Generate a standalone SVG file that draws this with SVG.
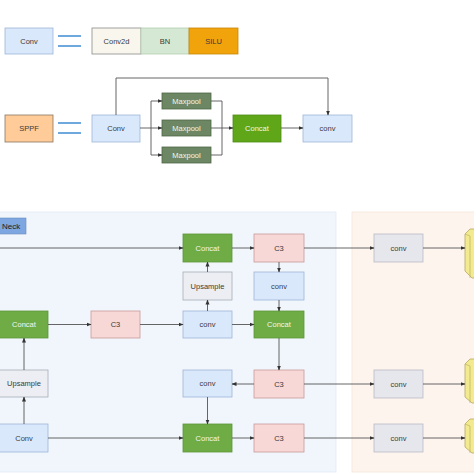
<svg xmlns="http://www.w3.org/2000/svg" width="474" height="474" viewBox="0 0 474 474">
<defs>
<marker id="ah" viewBox="0 0 10 10" refX="9" refY="5" markerWidth="5" markerHeight="5" orient="auto" markerUnits="userSpaceOnUse"><path d="M0,1 L10,5 L0,9 Z" fill="#333"/></marker>
<style>
text{font-family:"Liberation Sans",Arial,sans-serif;font-size:7.5px;text-anchor:middle;dominant-baseline:central;fill:#3a3a3a}
.lt{fill:#f2f7ee}
.blue{fill:#dae8fc;stroke:#9fb6d6;stroke-width:0.8}
.c3{fill:#f8d7d7;stroke:#c99a9a;stroke-width:0.8}
.gray{fill:#e6e7ec;stroke:#b8bcc6;stroke-width:0.8}
.up{fill:#eceef3;stroke:#a9adb6;stroke-width:0.8}
.cat{fill:#6fac46;stroke:#5d9638;stroke-width:0.8}
.cat2{fill:#5fa719;stroke:#4c8a12;stroke-width:0.8}
.mp{fill:#6d8764;stroke:#4e6647;stroke-width:0.8}
.e{fill:none;stroke:#555;stroke-width:0.9;marker-end:url(#ah)}
.l{fill:none;stroke:#555;stroke-width:0.9}
.eq{stroke:#6fa8dc;stroke-width:2}
.cube{fill:#f3e98f;stroke:#b5a95a;stroke-width:0.8}
</style>
</defs>
<rect width="474" height="474" fill="#ffffff"/>
<!-- panels -->
<rect x="-2" y="212" width="338" height="260" fill="#f1f6fc" stroke="#e2eaf5" stroke-width="0.8"/>
<rect x="352" y="212" width="130" height="260" fill="#fdf4ee" stroke="#f5e6da" stroke-width="0.8"/>
<g id="neck-label"><rect x="-2" y="218" width="28" height="16" fill="#7ea6e0" stroke="#6c8ebf" stroke-width="0.6"/><text x="2" y="226" style="font-size:8px;text-anchor:start;fill:#1a1a1a">Neck</text></g>
<!-- top definitions -->
<g id="conv-def"><rect x="5" y="28" width="48" height="26" class="blue"/><text x="29" y="41">Conv</text></g>
<g id="eq1"><line x1="58" y1="36" x2="81" y2="36" class="eq"/><line x1="58" y1="46" x2="81" y2="46" class="eq"/></g>
<g id="conv2d"><rect x="92" y="28" width="49" height="26" fill="#f9f7ed" stroke="#8a8a8a" stroke-width="0.8"/><text x="116.5" y="41">Conv2d</text></g>
<g id="bn"><rect x="141" y="28" width="48" height="26" fill="#d5e8d4" stroke="#b3cdb2" stroke-width="0.8"/><text x="165" y="41">BN</text></g>
<g id="silu"><rect x="189" y="28" width="49" height="26" fill="#f0a30a" stroke="#c98708" stroke-width="0.8"/><text x="213.5" y="41">SILU</text></g>
<g id="sppf"><rect x="5" y="115" width="48" height="27" fill="#ffcc99" stroke="#8a7560" stroke-width="0.8"/><text x="29" y="128.5">SPPF</text></g>
<g id="eq2"><line x1="58" y1="123" x2="81" y2="123" class="eq"/><line x1="58" y1="133" x2="81" y2="133" class="eq"/></g>
<g id="s-conv"><rect x="92" y="115" width="48" height="27" class="blue"/><text x="116" y="128.5">Conv</text></g>
<g id="mp1"><rect x="162" y="93" width="49" height="16" class="mp"/><text x="186.5" y="101" class="lt">Maxpool</text></g>
<g id="mp2"><rect x="162" y="120" width="49" height="16" class="mp"/><text x="186.5" y="128" class="lt">Maxpool</text></g>
<g id="mp3"><rect x="162" y="147" width="49" height="16" class="mp"/><text x="186.5" y="155" class="lt">Maxpool</text></g>
<g id="s-concat"><rect x="233" y="115" width="48" height="27" class="cat2"/><text x="257" y="128.5" class="lt">Concat</text></g>
<g id="s-conv2"><rect x="303" y="115" width="49" height="27" class="blue"/><text x="327.5" y="128.5">conv</text></g>
<!-- neck nodes -->
<g id="n-concat1"><rect x="183" y="234" width="49" height="28" class="cat"/><text x="207.5" y="248" class="lt">Concat</text></g>
<g id="n-c3a"><rect x="254" y="234" width="50" height="28" class="c3"/><text x="279" y="248">C3</text></g>
<g id="h-conv1"><rect x="374" y="234" width="49" height="28" class="gray"/><text x="398.5" y="248">conv</text></g>
<g id="n-up1"><rect x="183" y="272" width="49" height="28" class="up"/><text x="207.5" y="286">Upsample</text></g>
<g id="n-conv1"><rect x="254" y="272" width="50" height="28" class="blue"/><text x="279" y="286">conv</text></g>
<g id="n-concat2"><rect x="-1" y="311" width="49" height="27" class="cat"/><text x="24" y="324.5" class="lt">Concat</text></g>
<g id="n-c3b"><rect x="91" y="311" width="49" height="27" class="c3"/><text x="115.5" y="324.5">C3</text></g>
<g id="n-conv2"><rect x="183" y="311" width="49" height="27" class="blue"/><text x="207.5" y="324.5">conv</text></g>
<g id="n-concat3"><rect x="254" y="311" width="50" height="27" class="cat"/><text x="279" y="324.5" class="lt">Concat</text></g>
<g id="n-up2"><rect x="-1" y="370" width="49" height="27" class="up"/><text x="24" y="383.5">Upsample</text></g>
<g id="n-conv3"><rect x="183" y="370" width="49" height="27" class="blue"/><text x="207.5" y="383.5">conv</text></g>
<g id="n-c3c"><rect x="254" y="370" width="50" height="28" class="c3"/><text x="279" y="384">C3</text></g>
<g id="h-conv2"><rect x="374" y="370" width="49" height="28" class="gray"/><text x="398.5" y="384">conv</text></g>
<g id="n-conv4"><rect x="-1" y="424" width="49" height="28" class="blue"/><text x="24" y="438">Conv</text></g>
<g id="n-concat4"><rect x="183" y="424" width="49" height="28" class="cat"/><text x="207.5" y="438" class="lt">Concat</text></g>
<g id="n-c3d"><rect x="254" y="424" width="50" height="28" class="c3"/><text x="279" y="438">C3</text></g>
<g id="h-conv3"><rect x="374" y="424" width="49" height="28" class="gray"/><text x="398.5" y="438">conv</text></g>
<!-- outputs -->
<g id="out1"><path d="M465,234 L470,229 L480,229 L480,278 L472,278 L465,271 Z" class="cube"/><path d="M465,234 L470,236 L470,278" fill="none" stroke="#b5a95a" stroke-width="0.6"/></g>
<g id="out2"><path d="M465,364 L470,359 L480,359 L480,403 L472,403 L465,397 Z" class="cube"/><path d="M465,364 L470,366 L470,403" fill="none" stroke="#b5a95a" stroke-width="0.6"/></g>
<g id="out3"><path d="M465,424 L470,419 L480,419 L480,453 L472,453 L465,447 Z" class="cube"/><path d="M465,424 L470,426 L470,453" fill="none" stroke="#b5a95a" stroke-width="0.6"/></g>
<!-- connectors -->
<g id="connectors">
<path d="M116,115 V78 H328 V115" class="e"/>
<path d="M140,128 H151" class="l"/>
<path d="M151,101 V155" class="l"/>
<path d="M151,101 H162" class="e"/>
<path d="M151,128 H162" class="e"/>
<path d="M151,155 H162" class="e"/>
<path d="M211,101 H222 V155 H211" class="l"/>
<path d="M211,128 H233" class="e"/>
<path d="M281,128 H303" class="e"/>
<path d="M0,248 H183" class="e"/>
<path d="M232,248 H254" class="e"/>
<path d="M304,248 H374" class="e"/>
<path d="M423,248 H465" class="e"/>
<path d="M207.5,272 V262" class="e"/>
<path d="M207.5,311 V300" class="e"/>
<path d="M279,262 V272" class="e"/>
<path d="M279,300 V311" class="e"/>
<path d="M48,324.5 H91" class="e"/>
<path d="M140,324.5 H183" class="e"/>
<path d="M232,324.5 H254" class="e"/>
<path d="M279,338 V370" class="e"/>
<path d="M254,384 H232" class="e"/>
<path d="M304,384 H374" class="e"/>
<path d="M423,384 H465" class="e"/>
<path d="M24,370 V338" class="e"/>
<path d="M24,424 V397" class="e"/>
<path d="M48,438 H183" class="e"/>
<path d="M207.5,397 V424" class="e"/>
<path d="M232,438 H254" class="e"/>
<path d="M304,438 H374" class="e"/>
<path d="M423,438 H465" class="e"/>
</g>
</svg>
